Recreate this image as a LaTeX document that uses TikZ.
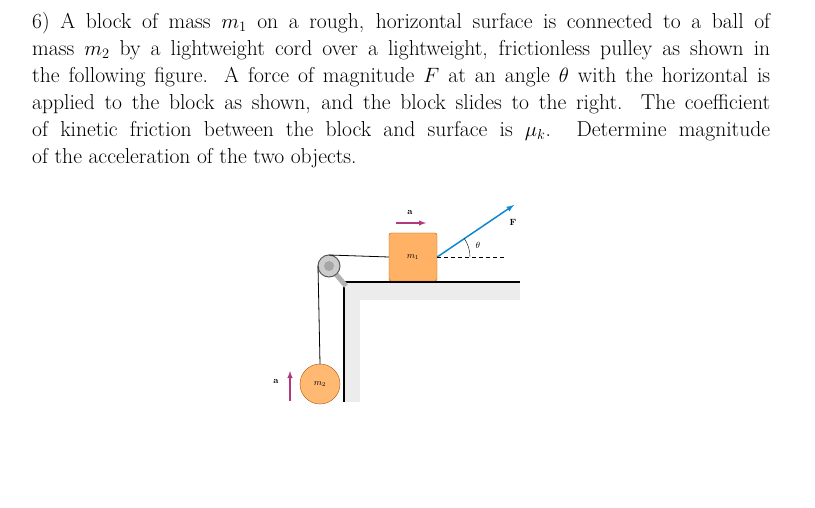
\documentclass[tikz,border=0pt]{standalone}
\usepackage{amsmath}
\begin{document}
\begin{tikzpicture}[x=1pt,y=-1pt,
  blk/.style={draw=orange!70!black,fill=orange!60,rounded corners=2pt},
  cord/.style={black,line width=0.8pt},
  acc/.style={-latex,magenta!70!black,line width=1.4pt},
  lab/.style={font=\fontsize{9}{10}\selectfont\bfseries}]
\useasboundingbox (0,0) rectangle (815,508);
\node[anchor=north west,text width=738pt,align=justify,inner sep=0pt,font=\fontsize{21.6}{27}\selectfont] (txt) at (32,12)
{6) A block of mass $m_1$ on a rough, horizontal surface is connected to a ball of\linebreak mass $m_2$ by a lightweight cord over a lightweight, frictionless pulley as shown in\linebreak the following figure. A force of magnitude $F$ at an angle $\theta$ with the horizontal is\linebreak applied to the block as shown, and the block slides to the right. The coefficient\linebreak of kinetic friction between the block and surface is $\mu_k$. Determine magnitude\linebreak of the acceleration of the two objects.};
% table
\fill[gray!15] (344,282) rectangle (520,300);
\fill[gray!15] (344,282) rectangle (360,402);
\fill[white] (360,300) rectangle (520,402);
\draw[line width=1.2pt] (520,282) -- (344,282) -- (344,402);
% pulley
\draw[gray!60,line width=5pt] (329,266) -- (346,286);
\node[circle,draw=gray!70!black,fill=gray!40,minimum size=22pt,inner sep=0pt,line width=1pt] (pul) at (329,266) {};
\node[circle,fill=gray!70,minimum size=10pt,inner sep=0pt] at (pul) {};
% block
\node[blk,minimum width=48pt,minimum height=48pt,inner sep=0pt] (m1) at (413,257) {\fontsize{9}{9}\selectfont$m_1$};
% ball
\node[circle,draw=orange!70!black,fill=orange!55,minimum size=40pt,inner sep=0pt] (m2) at (320,384) {\fontsize{9}{9}\selectfont$m_2$};
% cords
\draw[cord] (m1.west) -- (329,255);
\draw[cord] (318,266) -- (m2.north);
% force
\coordinate (fe) at (514,205);
\draw[cyan!70!blue,line width=1.5pt,-latex] (m1.east) -- (fe);
\draw[dash pattern=on 4pt off 3pt,line width=0.8pt] (m1.east) -- (505,257);
\draw (470,257) arc (0:-34:33);
\node[font=\small] (th) at (478,245) {$\theta$};
\node[lab] (F) at (513,222) {F};
% accelerations
\coordinate (a1s) at (396,223);\coordinate (a1e) at (426,223);
\draw[acc] (a1s) -- (a1e);
\node[lab] (a1) at (410,212) {a};
\coordinate (a2s) at (290,401);\coordinate (a2e) at (290,371);
\draw[acc] (a2s) -- (a2e);
\node[lab] (a2) at (276,381) {a};
\end{tikzpicture}
\end{document}
